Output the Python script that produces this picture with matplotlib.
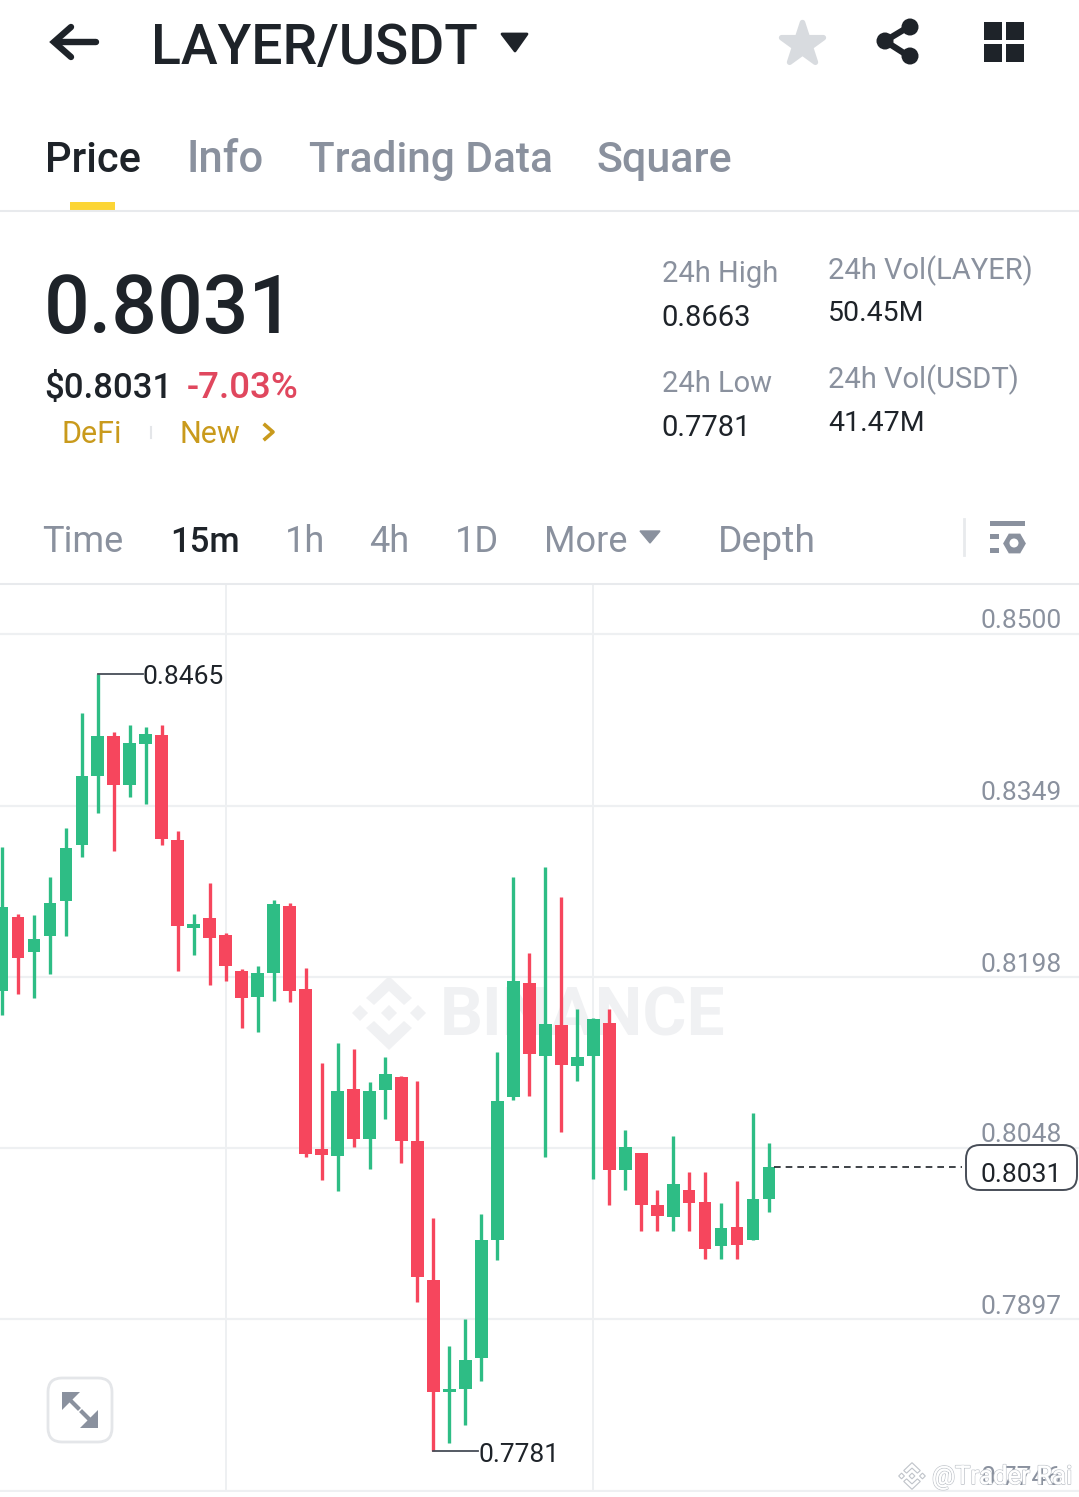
import matplotlib
matplotlib.use("Agg")
import matplotlib.pyplot as plt
import numpy as np
from matplotlib.patches import FancyBboxPatch, Rectangle, Polygon, Circle
import matplotlib.patheffects as pe

plt.rcParams['font.family'] = ['Roboto', 'DejaVu Sans']

W, H = 1079, 1497

# 15m candles, oldest first
opens = [0.81859, 0.82510, 0.82202, 0.82343, 0.82651, 0.83144, 0.83751, 0.84103, 0.83671, 0.84032,
         0.84111, 0.83188, 0.82413, 0.82501, 0.82352, 0.82035, 0.81806, 0.82017, 0.82607, 0.81877,
         0.80469, 0.80407, 0.80997, 0.80557, 0.80988, 0.81102, 0.80539, 0.79316, 0.78331, 0.78358,
         0.78630, 0.79668, 0.80927, 0.81929, 0.81287, 0.81560, 0.81199, 0.81287, 0.81578, 0.80284,
         0.80434, 0.79976, 0.79871, 0.80108, 0.80003, 0.79616, 0.79783, 0.79668, 0.80029]
highs = [0.83126, 0.82537, 0.82528, 0.82862, 0.83293, 0.84305, 0.84650, 0.84138, 0.84199, 0.84182,
         0.84199, 0.83267, 0.82537, 0.82809, 0.82369, 0.82053, 0.82079, 0.82660, 0.82633, 0.82061,
         0.81226, 0.81402, 0.81349, 0.81058, 0.81278, 0.81111, 0.81067, 0.79862, 0.78736, 0.78973,
         0.79897, 0.81322, 0.82862, 0.82193, 0.82950, 0.82686, 0.81701, 0.81622, 0.81701, 0.80636,
         0.80434, 0.80108, 0.80583, 0.80267, 0.80267, 0.79994, 0.80187, 0.80786, 0.80522]
lows = [0.81648, 0.81833, 0.81798, 0.82009, 0.82343, 0.83038, 0.83425, 0.83091, 0.83566, 0.83504,
        0.83144, 0.82035, 0.82176, 0.81912, 0.81947, 0.81534, 0.81498, 0.81771, 0.81762, 0.80399,
        0.80196, 0.80099, 0.80487, 0.80293, 0.80733, 0.80346, 0.79123, 0.77810, 0.77882, 0.78041,
        0.78428, 0.79492, 0.80900, 0.80935, 0.80399, 0.80619, 0.81067, 0.80205, 0.79976, 0.80108,
        0.79748, 0.79748, 0.79748, 0.79748, 0.79501, 0.79501, 0.79501, 0.79668, 0.79915]
closes = [0.82598, 0.82149, 0.82317, 0.82633, 0.83117, 0.83751, 0.84103, 0.83671, 0.84041, 0.84120,
          0.83196, 0.82431, 0.82449, 0.82325, 0.82079, 0.81798, 0.82017, 0.82625, 0.81859, 0.80425,
          0.80416, 0.80979, 0.80557, 0.80979, 0.81129, 0.80539, 0.79343, 0.78331, 0.78358, 0.78613,
          0.79668, 0.80891, 0.81947, 0.81305, 0.81569, 0.81208, 0.81278, 0.81613, 0.80284, 0.80487,
          0.79976, 0.79880, 0.80161, 0.79994, 0.79589, 0.79774, 0.79624, 0.80029, 0.80310]

tick_values = [0.8500, 0.8349, 0.8198, 0.8048, 0.7897, 0.7746]
tick_labels = ["0.8500", "0.8349", "0.8198", "0.8048", "0.7897", "0.7746"]
time_lines = [14, 37]  # candle index where the vertical grid falls

last_price = 0.8031
day_high = 0.8465
day_low = 0.7781

GREEN = "#2EBD85"
RED = "#F6465D"
DARK = "#1E2329"
GREY = "#8A919E"
GRID = "#EEF0F2"
GOLD = "#C99A1C"

fig = plt.figure(figsize=(W / 100, H / 100), dpi=100, facecolor="white")


def pixel_axes(z):
    a = fig.add_axes([0, 0, 1, 1], zorder=z)
    a.set_xlim(0, W)
    a.set_ylim(H, 0)
    a.axis("off")
    a.patch.set_alpha(0)
    return a


def logo(a, cx, cy, k, **style):
    # exchange mark: centre and side diamonds, chevrons above and below
    for dx in (-29, 0, 29):
        pts = [[dx - 8, 0], [dx, -8], [dx + 8, 0], [dx, 8]]
        a.add_patch(Polygon([[cx + k * p, cy + k * q] for p, q in pts], closed=True, **style))
    for sign in (-1, 1):
        pts = [[0, 37], [-23, 15], [-15, 8], [0, 22], [15, 8], [23, 15]]
        a.add_patch(Polygon([[cx + k * p, cy + sign * k * q] for p, q in pts], closed=True, **style))


# faint watermark sits behind the chart
bg = pixel_axes(0)
logo(bg, 389, 1013, 1, fc="#F0F1F3", ec="none")
bg.text(440, 1036, "BINANCE", fontsize=48.6, fontweight="bold", color="#F0F1F3", ha="left", va="baseline")

# price chart, pixel band 585-1492
ax = fig.add_axes([0, (H - 1492) / H, 1, (1492 - 585) / H], zorder=1)
ax.set_xlim(-0.125, 67.4)
ax.set_ylim(0.77451, 0.85431)
ax.axis("off")
ax.patch.set_alpha(0)

# ui layer in plain pixels
ui = pixel_axes(5)


def put(x, y, s, size, color=DARK, weight="normal", ha="left"):
    return ui.text(x, y, s, fontsize=size, color=color, fontweight=weight, ha=ha, va="baseline")


# grid
for v in tick_values:
    ax.axhline(v, color=GRID, lw=1.6, zorder=1)
for i in time_lines:
    ax.axvline(i, color=GRID, lw=1.4, zorder=1)

# candles
xs = np.arange(len(opens)) + 0.0
o = np.array(opens)
c = np.array(closes)
colors = [GREEN if a >= b else RED for a, b in zip(closes, opens)]
ax.vlines(xs, lows, highs, colors=colors, lw=2.4, zorder=3)
ax.bar(xs, np.abs(c - o), bottom=np.minimum(o, c), width=0.8, color=colors, zorder=3)

# high / low markers
hi_i = int(np.argmax(highs))
lo_i = int(np.argmin(lows))
ax.plot([hi_i, hi_i + 2.8], [day_high, day_high], color="#474D57", lw=1.3, zorder=4)
ax.annotate("%.4f" % day_high, xy=(hi_i + 2.8, day_high), xytext=(0, -2), textcoords="offset points",
            fontsize=19, color=DARK, va="center", zorder=4)
ax.plot([lo_i, lo_i + 2.8], [day_low, day_low], color="#474D57", lw=1.3, zorder=4)
ax.annotate("%.4f" % day_low, xy=(lo_i + 2.8, day_low), xytext=(0, -3), textcoords="offset points",
            fontsize=19, color=DARK, va="center", zorder=4)

# last price
ax.plot([48.3, 60.1], [last_price, last_price], color="#1E2329", lw=1.2, ls=(0, (4, 3)), zorder=4)

# tick labels
for v, lab in zip(tick_values, tick_labels):
    ax.annotate(lab, xy=(1, v), xycoords=ax.get_yaxis_transform(), xytext=(-12.5, 4),
                textcoords="offset points", ha="right", va="baseline", fontsize=19, color=GREY)

ui.add_patch(FancyBboxPatch((966, 1145), 111, 45, boxstyle="round,pad=0,rounding_size=14",
                            fc="white", ec="#474D57", lw=1.4))
put(1021, 1182, "%.4f" % last_price, 19, ha="center")

# header
ui.plot([55, 96], [42, 42], color=DARK, lw=4.6, solid_capstyle="round")
ui.plot([71, 54, 71], [27, 42, 57], color=DARK, lw=4.6, solid_capstyle="round", solid_joinstyle="miter")
put(151, 64, "LAYER/USDT", 39.8, weight="medium")
ui.add_patch(Polygon([[502, 34], [527, 34], [515, 51]], closed=True, fc=DARK, ec=DARK, lw=2, joinstyle="round"))
ui.scatter([802], [44], marker="*", s=1000, color="#D8DBDF", edgecolors="#D8DBDF", linewidths=4)
ui.plot([910, 885, 910], [26, 41, 57], color=DARK, lw=4.5)
ui.add_patch(Circle((885, 41), 8.5, fc=DARK, ec="none"))
ui.add_patch(Circle((910, 27), 8.5, fc=DARK, ec="none"))
ui.add_patch(Circle((910, 56), 8.5, fc=DARK, ec="none"))
for sx in (984, 1006):
    for sy in (22, 44):
        ui.add_patch(Rectangle((sx, sy), 18, 18, fc=DARK, ec="none"))

# tabs
put(45, 172, "Price", 30, weight="medium")
put(186, 172, "Info", 31.5, color=GREY, weight="medium")
put(309, 172, "Trading Data", 30.5, color=GREY, weight="medium")
put(597, 172, "Square", 31, color=GREY, weight="medium")
ui.add_patch(Rectangle((70, 202), 45, 8, fc="#FCD535", ec="none"))
ui.plot([0, W], [211, 211], color="#E8EAED", lw=1.5)

# price block
put(44, 333, "0.8031", 58, weight="medium")
put(44, 398, "$0.8031", 25, weight="medium")
put(187, 398, "-7.03%", 26.5, color="#E0475E", weight="medium")
put(62, 443, "DeFi", 22, color=GOLD)
ui.plot([151, 151], [427, 438], color="#E4E6E9", lw=1.5)
put(180, 443, "New", 22, color=GOLD)
ui.plot([265, 273, 265], [425, 432, 439], color=GOLD, lw=2.6)

# 24h stats
put(662, 282, "24h High", 21, color=GREY)
put(661, 326, "0.8663", 21)
put(828, 279, "24h Vol(LAYER)", 21, color=GREY)
put(828, 321, "50.45M", 20.5)
put(662, 392, "24h Low", 21, color=GREY)
put(661, 436, "0.7781", 21)
put(828, 388, "24h Vol(USDT)", 21, color=GREY)
put(828, 431, "41.47M", 20.5)

# interval row
put(42, 552, "Time", 26, color=GREY)
put(170, 552, "15m", 25, weight="medium")
put(285, 552, "1h", 26, color=GREY)
put(369, 552, "4h", 26, color=GREY)
put(455, 552, "1D", 26, color=GREY)
put(544, 552, "More", 26, color=GREY)
ui.add_patch(Polygon([[640, 531], [660, 531], [650, 543]], closed=True, fc=GREY, ec=GREY, lw=1))
put(718, 552, "Depth", 26.8, color=GREY)
ui.plot([964, 964], [519, 555], color="#E8EAED", lw=2)
ui.add_patch(Rectangle((990, 521), 35, 5, fc=GREY, ec="none"))
ui.add_patch(Rectangle((990, 534), 9, 5, fc=GREY, ec="none"))
ui.add_patch(Rectangle((990, 548), 9, 5, fc=GREY, ec="none"))
ui.scatter([1014], [543], marker="H", s=270, color=GREY, linewidths=0)
ui.add_patch(Circle((1014, 543), 4.5, fc="white", ec="none"))
ui.plot([0, W], [584, 584], color="#E8EAED", lw=1.5)

# expand button
ui.add_patch(FancyBboxPatch((48, 1378), 64, 64, boxstyle="round,pad=0,rounding_size=14",
                            fc="white", ec="#E4E6E9", lw=2))
ui.plot([66, 78], [1396, 1408], color=GREY, lw=3)
ui.plot([82, 94], [1412, 1424], color=GREY, lw=3)
ui.add_patch(Polygon([[62, 1392], [80, 1392], [62, 1410]], closed=True, fc=GREY, ec="none"))
ui.add_patch(Polygon([[98, 1428], [80, 1428], [98, 1410]], closed=True, fc=GREY, ec="none"))

# site watermark over the bottom right corner
t = put(932, 1484, "@Trader Rai", 18.5, color="white")
t.set_path_effects([pe.withStroke(linewidth=1.2, foreground="#C3C7CD"), pe.Normal()])
logo(ui, 912, 1476, 0.36, fc="white", ec="#BFC3C9", lw=0.8)

fig.savefig("out.png", dpi=100)
